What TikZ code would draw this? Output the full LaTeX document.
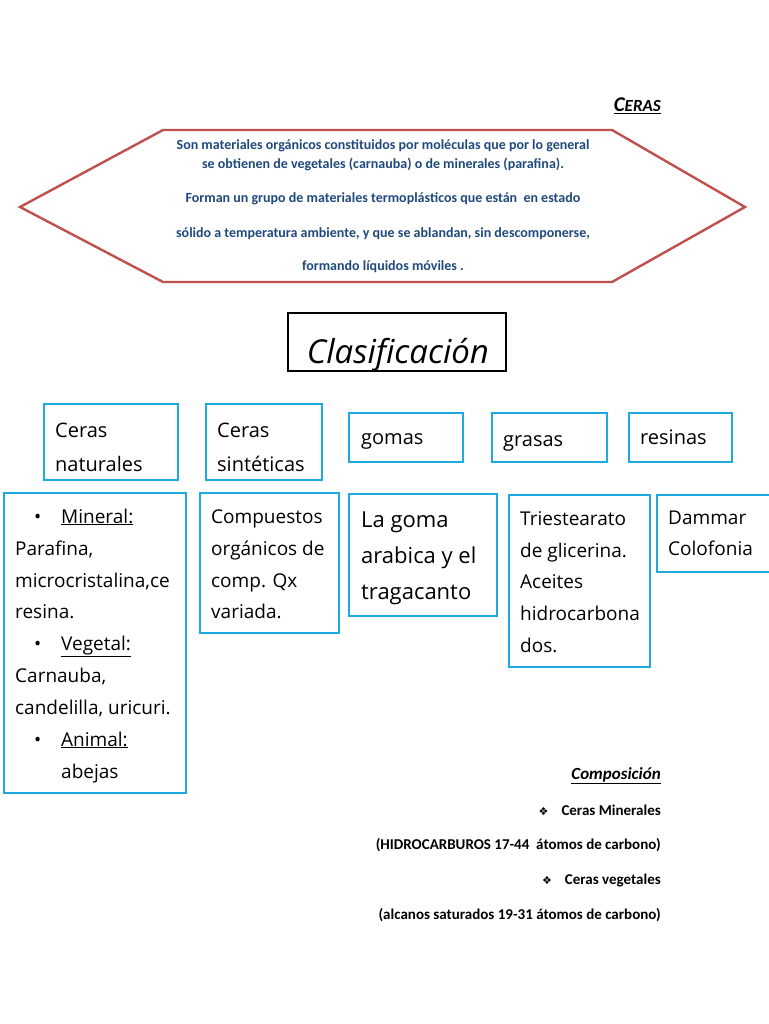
\documentclass[tikz,border=0pt]{standalone}
\usepackage{fontspec}
\setmainfont{Carlito}
\newfontfamily\hand{Open Sans}
\newfontfamily\djsym{DejaVu Sans}
\definecolor{hexred}{RGB}{192,80,77}
\definecolor{hexblue}{RGB}{31,73,125}
\definecolor{boxcyan}{RGB}{30,170,225}
\tikzset{
  cbox/.style={draw=boxcyan,line width=2.4pt},
  htop/.style={font=\hand\fontsize{20}{20}\selectfont,anchor=base west,inner sep=0pt},
  htxt/.style={font=\hand\fontsize{19}{19}\selectfont,anchor=base west,inner sep=0pt},
  hbig/.style={font=\hand\fontsize{22}{22}\selectfont,anchor=base west,inner sep=0pt},
  hexline/.style={font=\bfseries\fontsize{14}{14}\selectfont,text=hexblue,anchor=base,inner sep=0pt},
  comp/.style={font=\bfseries\fontsize{15}{15}\selectfont,anchor=base east,inner sep=0pt}
}
\begin{document}
\begin{tikzpicture}[x=1pt,y=-1pt]
\useasboundingbox (0,0) rectangle (768,1024);
% title
\node[anchor=base east,inner sep=0pt,font=\bfseries\itshape] (title) at (661,112) {\underline{{\fontsize{21}{21}\selectfont C}{\fontsize{17}{17}\selectfont ERAS}}};
% hexagon
\draw[hexred,line width=2.4pt,line join=miter] (20,207) -- (163,130) -- (612,130) -- (745,207) -- (612,282) -- (163,282) -- cycle;
\node[hexline] (h1) at (383,150) {Son materiales orgánicos constituidos por moléculas que por lo general};
\node[hexline] (h2) at (383,169) {se obtienen de vegetales (carnauba) o de minerales (parafina).};
\node[hexline] (h3) at (383,203) {Forman un grupo de materiales termoplásticos que están\ \ en estado};
\node[hexline] (h4) at (383,237) {sólido a temperatura ambiente, y que se ablandan, sin descomponerse,};
\node[hexline] (h5) at (383,270) {formando líquidos móviles .};
% Clasificacion
\draw[black,line width=2.4pt] (288,313) rectangle (506,371);
\node[font=\hand\itshape\fontsize{33}{33}\selectfont,inner sep=0pt,anchor=base] (clas) at (398,363) {Clasificación};
% top row
\draw[cbox] (44,404) rectangle (178,480);
\node[htop] (t1a) at (55,437) {Ceras};
\node[htop] (t1b) at (55,471) {naturales};
\draw[cbox] (206,404) rectangle (322,480);
\node[htop] (t2a) at (217,437) {Ceras};
\node[htop] (t2b) at (217,471) {sintéticas};
\draw[cbox] (349,413) rectangle (463,462);
\node[htop] (t3) at (361,444) {gomas};
\draw[cbox] (492,413) rectangle (607,462);
\node[htop] (t4) at (503,446) {grasas};
\draw[cbox] (629,413) rectangle (732,462);
\node[htop] (t5) at (640,444) {resinas};
% bottom row
\draw[cbox] (4,493) rectangle (186,793);
\node[htxt] (b1) at (34,523) {\makebox[27pt][l]{\textbullet}\underline{Mineral:}};
\node[htxt] (b2) at (15,555) {Parafina,};
\node[htxt] (b3) at (15,587) {microcristalina,ce};
\node[htxt] (b4) at (15,618) {resina.};
\node[htxt] (b5) at (34,650) {\makebox[27pt][l]{\textbullet}\underline{Vegetal:}};
\node[htxt] (b6) at (15,682) {Carnauba,};
\node[htxt] (b7) at (15,714) {candelilla, uricuri.};
\node[htxt] (b8) at (34,746) {\makebox[27pt][l]{\textbullet}\underline{Animal:}};
\node[htxt] (b9) at (61,778) {abejas};
\draw[cbox] (200,493) rectangle (339,633);
\node[htxt] (c1) at (211,523) {Compuestos};
\node[htxt] (c2) at (211,555) {orgánicos de};
\node[htxt] (c3) at (211,587) {comp. Qx};
\node[htxt] (c4) at (211,618) {variada.};
\draw[cbox] (349,494) rectangle (497,616);
\node[hbig] (d1) at (361,527) {La goma};
\node[hbig] (d2) at (361,563) {arabica y el};
\node[hbig] (d3) at (361,599) {tragacanto};
\draw[cbox] (509,495) rectangle (650,667);
\node[htxt] (e1) at (520,525) {Triestearato};
\node[htxt] (e2) at (520,557) {de glicerina.};
\node[htxt] (e3) at (520,588) {Aceites};
\node[htxt] (e4) at (520,620) {hidrocarbona};
\node[htxt] (e5) at (520,652) {dos.};
\draw[cbox] (657,495) rectangle (770,572);
\node[htxt] (f1) at (668,524) {Dammar};
\node[htxt] (f2) at (668,555) {Colofonia};
% composition
\node[comp,font=\bfseries\itshape\fontsize{17}{17}\selectfont] (k0) at (661,779) {\underline{Composición}};
\node[comp] (k1) at (661,815) {{\djsym\fontsize{11}{11}\selectfont ❖}\hspace{13pt}Ceras Minerales};
\node[comp] (k2) at (661,849) {(HIDROCARBUROS 17-44\ \ átomos de carbono)};
\node[comp] (k3) at (661,884) {{\djsym\fontsize{11}{11}\selectfont ❖}\hspace{13pt}Ceras vegetales};
\node[comp] (k4) at (661,919) {(alcanos saturados 19-31 átomos de carbono)};
\end{tikzpicture}
\end{document}
